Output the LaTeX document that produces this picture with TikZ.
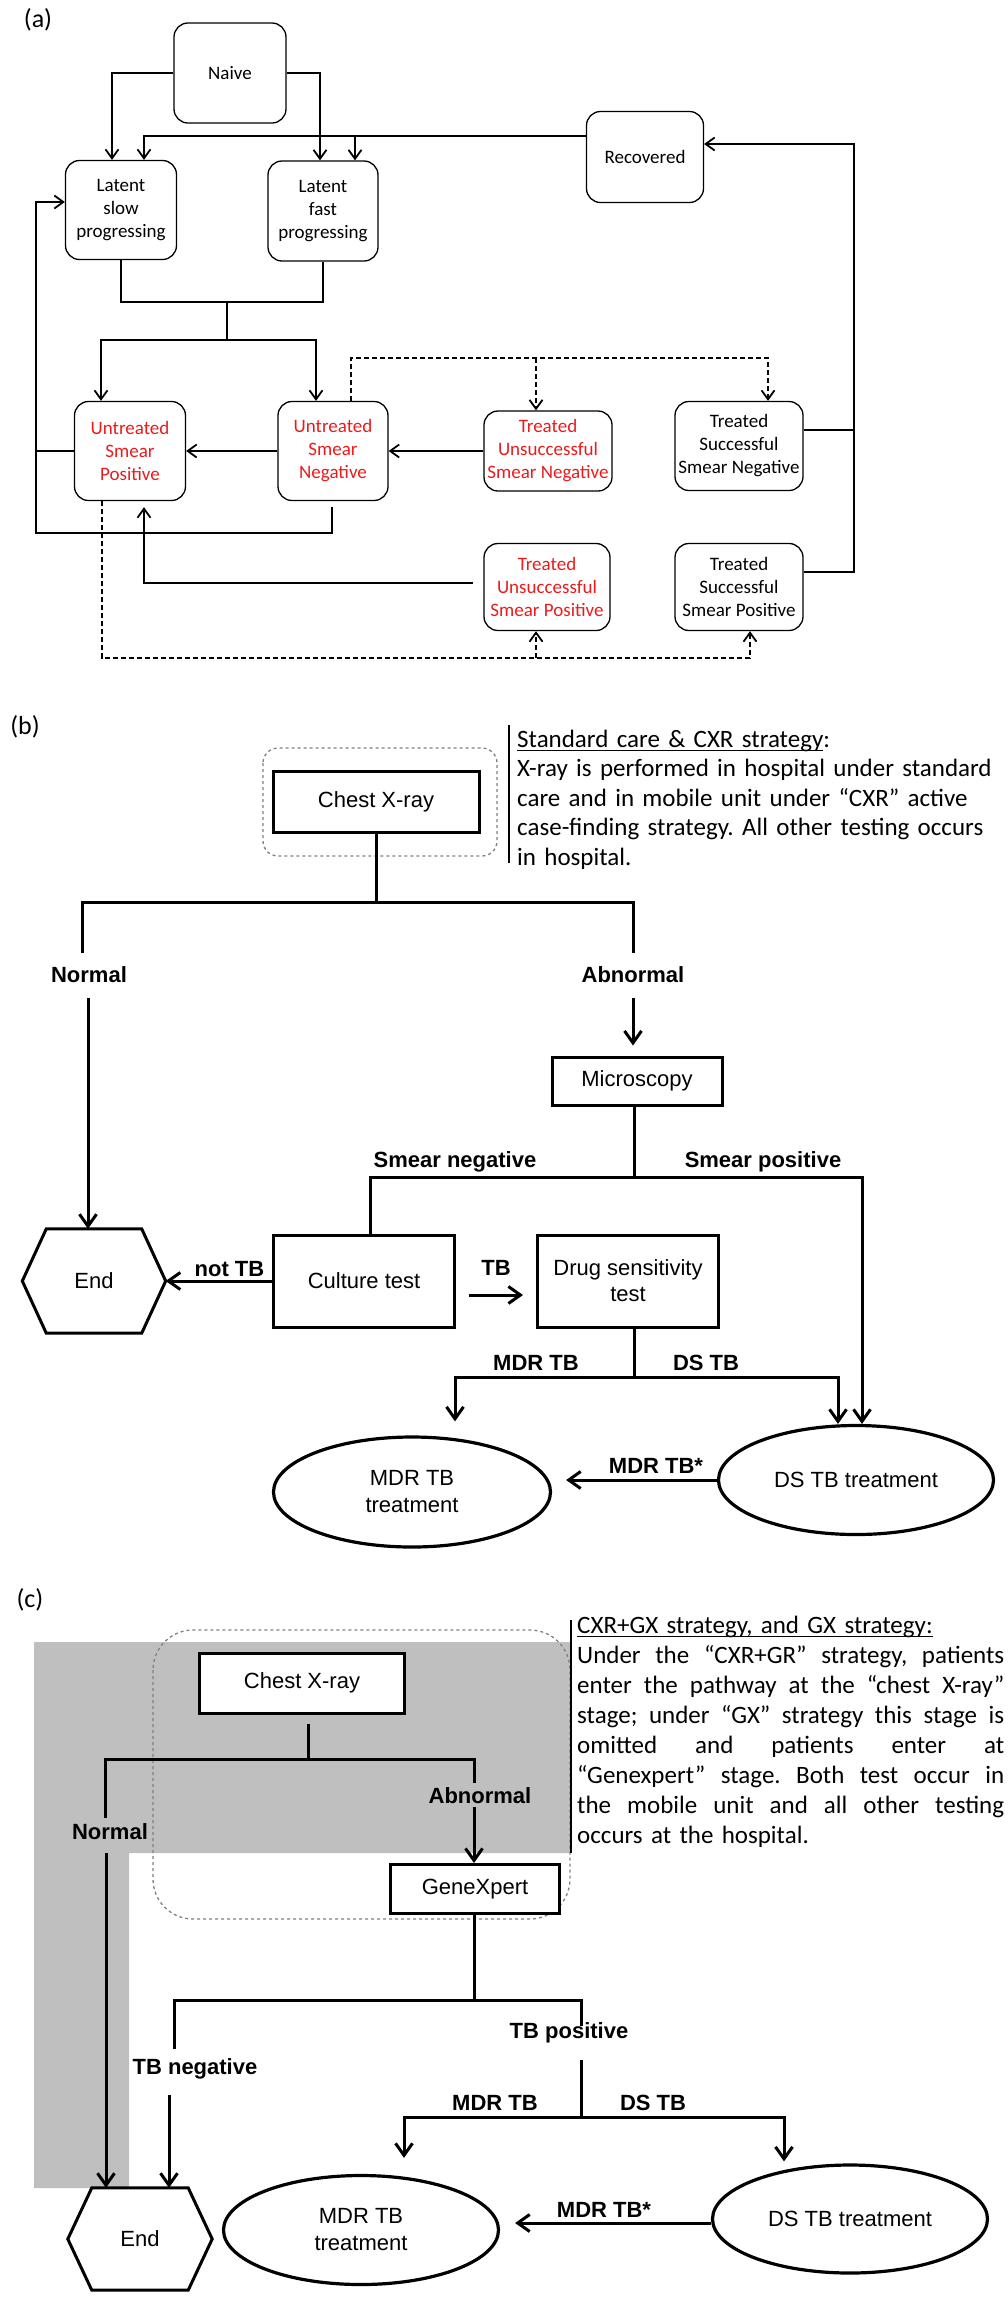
\documentclass[tikz,border=0pt]{standalone}
\usepackage{fontspec}
\setmainfont{Carlito}
\newfontfamily\arialfont{Liberation Sans}
\usetikzlibrary{arrows.meta,shapes.geometric}
\definecolor{txred}{RGB}{232,28,28}
\frenchspacing
\tikzset{
    SA/.style ={draw, rounded corners=14pt, line width=1.3pt, align=center, inner sep=1pt, font=\fontsize{19}{23}\selectfont},
    SR/.style ={SA, text=txred},
    CN/.style ={line width=1.8pt},
    CA/.style ={CN, -{Straight Barb[length=9pt,width=13pt]}},
    CD/.style ={CA, dash pattern=on 5pt off 3pt},
    RB/.style ={draw, line width=3pt, fill=white, align=center, font=\arialfont\fontsize{22}{26}\selectfont},
    EB/.style ={ellipse, draw, line width=3.2pt, align=center, font=\arialfont\fontsize{22}{27}\selectfont},
    HX/.style ={minimum width=143pt, minimum height=104pt, inner sep=0pt, font=\arialfont\fontsize{22}{26}\selectfont},
    LB/.style ={font=\arialfont\bfseries\fontsize{22}{26}\selectfont, inner sep=1pt},
    TL/.style ={line width=3pt},
    TA/.style ={TL, -{Straight Barb[length=12pt,width=17pt]}},
    FR/.style ={draw=gray, dashed, line width=1.3pt},
    TX/.style ={font=\fontsize{25}{29.5}\selectfont, inner sep=0pt, anchor=base west, align=left}}
\newcommand\hexend[1]{\draw[TL] (#1.west) -- ([xshift=24pt]#1.north west) -- ([xshift=-24pt]#1.north east)
    -- (#1.east) -- ([xshift=-24pt]#1.south east) -- ([xshift=24pt]#1.south west) -- cycle;}
\newcommand\hdrline[1]{\setbox0\hbox{#1}\rlap{\rule[-4pt]{\wd0}{1.5pt}}\box0}
\newcommand\jline[1]{\leavevmode\hbox to 427pt{\spaceskip=0.23em plus 1fil\relax #1}}

\begin{document}
\begin{tikzpicture}[x=1pt,y=-1pt]
        \useasboundingbox (0,0) rectangle (1008,2300);
        \foreach \p/\x/\y in {a/38/20,b/25/727,c/30/1600}
            \node[font=\fontsize{26}{30}\selectfont] (lab\p) at (\x,\y) {(\p)};
        % (a) states
        \node[SA, minimum width=112pt, minimum height=100pt] (naive) at (230,73) {Naive};
        \node[SA, minimum width=111pt, minimum height=99pt] (latslow) at (121,210) {Latent\\slow\\progressing};
        \node[SA, minimum width=110pt, minimum height=100pt] (latfast) at (323,211) {Latent\\fast\\progressing};
        \node[SA, minimum width=117pt, minimum height=91pt] (recov) at (645,157) {Recovered};
        \node[SR, minimum width=111pt, minimum height=99pt] (usp) at (130,451) {Untreated\\Smear\\Positive};
        \node[SR, minimum width=110pt, minimum height=99pt] (usn) at (333,451) {Untreated\\Smear\\Negative};
        \node[SR, minimum width=128pt, minimum height=80pt] (tusn) at (548,451) {Treated\\Unsuccessful\\Smear Negative};
        \node[SA, minimum width=128pt, minimum height=89pt] (tssn) at (739,446) {Treated\\Successful\\Smear Negative};
        \node[SR, minimum width=126pt, minimum height=87pt] (tusp) at (547,587) {Treated\\Unsuccessful\\Smear Positive};
        \node[SA, minimum width=128pt, minimum height=87pt] (tssp) at (739,587) {Treated\\Successful\\Smear Positive};
        \coordinate (rf) at (355,136);
        \coordinate (lj) at (227,302);
        \coordinate (lk) at (227,340);
        \coordinate (lb) at (36,533);
        \coordinate (rb) at (854,572);
        \coordinate (dt) at (351,358);
        \coordinate (db) at (102,658);
        \coordinate (tsnE) at ([yshift=16pt]tssn.east);
        \coordinate (tunN) at ([xshift=-12pt]tusn.north);
        \coordinate (tupS) at ([xshift=-11pt]tusp.south);
        \draw[CA] (naive.west) -| ([xshift=-9pt]latslow.north);
        \draw[CA] (naive.east) -| ([xshift=-3pt]latfast.north);
        \draw[CA] ([yshift=21pt]recov.west) -| ([xshift=23pt]latslow.north);
        \draw[CA] (rf) -- ([xshift=32pt]latfast.north);
        \draw[CN] (latslow.south) |- (lj) -| (latfast.south);
        \draw[CN] (lj) -- (lk);
        \draw[CA] (lk) -| ([xshift=-29pt]usp.north);
        \draw[CA] (lk) -| ([xshift=-17pt]usn.north);
        \draw[CA] (tusn) -- (usn);
        \draw[CA] (usn) -- (usp);
        \draw[CA, shorten <=6pt] ([xshift=-1pt]usn.south) |- (lb) |- ([yshift=8pt]latslow.west);
        \draw[CN] (usp.west) -- (usp.west -| lb);
        \draw[CA, shorten <=10pt, shorten >=6pt] ([yshift=4pt]tusp.west) -| ([xshift=14pt]usp.south);
        \draw[CN] (tsnE) -- (tsnE -| rb);
        \draw[CA] ([yshift=15pt]tssp.east) -- (rb) |- ([yshift=13pt]recov.east);
        \draw[CD] ([xshift=18pt]usn.north) -- (dt) -| ([xshift=29pt]tssn.north);
        \draw[CD] (tunN |- dt) -- (tunN);
        \draw[CD] ([xshift=-28pt]usp.south) -- (db) -| ([xshift=11pt]tssp.south);
        \draw[CD] (tupS |- db) -- (tupS);
        % (b) standard care
        \draw[FR, rounded corners=15pt] (263,748) rectangle (497,856);
        \node[RB, minimum width=206pt, minimum height=61pt] (chestB) at (376,802) {Chest X-ray};
        \draw[line width=1.5pt] (509,725) -- (509,863);
        \node[TX, text width=490pt] (descB) at (517,747) {\hdrline{Standard care \& CXR strategy}:\\
            X-ray is performed in hospital under standard\\
            care and in mobile unit under “CXR” active\\
            case-finding strategy. All other testing occurs\\
            in hospital.};
        \coordinate (bj) at (376,902);
        \coordinate (bn) at (82,953);
        \coordinate (ba) at (633,953);
        \coordinate (bnd) at (88,998);
        \coordinate (bad) at (633,998);
        \coordinate (bm) at (634,1177);
        \coordinate (bd) at (634,1377);
        \draw[TL] (chestB) -- (bj);
        \draw[TL] (bn) |- (bj) -| (ba);
        \node[LB] (normB) at (89,975) {Normal};
        \node[LB] (abnB) at (633,975) {Abnormal};
        \node[RB, minimum width=170pt, minimum height=48pt] (microB) at (637,1081) {Microscopy};
        \node[HX] (endB) at (94,1281) {End};
        \hexend{endB}
        \node[RB, minimum width=181pt, minimum height=92pt] (cultB) at (364,1281) {Culture test};
        \node[RB, minimum width=181pt, minimum height=92pt] (dstB) at (628,1281) {Drug sensitivity\\test};
        \node[EB, minimum width=277pt, minimum height=110pt] (mdrB) at (412,1492) {MDR TB\\treatment};
        \node[EB, minimum width=275pt, minimum height=109pt] (dsB) at (856,1480) {DS TB treatment};
        \draw[TA] (bnd) -- (bnd |- endB.north);
        \draw[TA, shorten >=10pt] (bad) -- (bad |- microB.north);
        \draw[TL] ([xshift=-3pt]microB.south) -- (bm);
        \draw[TA] ([xshift=6pt]cultB.north) |- (bm) -| ([xshift=6pt]dsB.north);
        \node[LB] (smnB) at (455,1162) {Smear negative};
        \node[LB] (smpB) at (763,1162) {Smear positive};
        \draw[TA] (cultB) -- (endB) node[LB, pos=0.4, above=2pt] (ntbB) {not TB};
        \draw[TA, shorten <=13pt, shorten >=13pt] ([yshift=-14pt]cultB.east) -- ([yshift=-14pt]dstB.west)
            node[LB, midway, above=17pt] (tbB) {TB};
        \draw[TL] ([xshift=6pt]dstB.south) -- (bd);
        \draw[TA, shorten >=14pt] (bd) -| ([xshift=43pt]mdrB.north);
        \draw[TA] (bd) -| ([xshift=-18pt]dsB.north);
        \node[LB] (mdrlB) at (536,1363) {MDR TB};
        \node[LB] (dslB) at (706,1363) {DS TB};
        \draw[TA, shorten >=14pt] (dsB.west) -- (dsB.west -| mdrB.east);
        \node[LB] (mdrsB) at (656,1466) {MDR TB*};
        % (c) CXR+GX and GX
        \fill[gray!50] (34,1642) -- (570,1642) -- (570,1853) -- (129,1853) -- (129,2188) -- (34,2188) -- cycle;
        \draw[FR, rounded corners=40pt] (153,1630) rectangle (570,1919);
        \node[RB, minimum width=205pt, minimum height=60pt] (chestC) at (302,1683) {Chest X-ray};
        \draw[line width=1.5pt] (571,1620) -- (571,1853);
        \node[TX, text width=427pt, font=\fontsize{25}{30}\selectfont] (descC) at (577,1633) {\hdrline{CXR+GX strategy, and GX strategy:}\\
            \jline{Under the “CXR+GR” strategy, patients}\\
            \jline{enter the pathway at the “chest X-ray”}\\
            \jline{stage; under “GX” strategy this stage is}\\
            \jline{omitted and patients enter at}\\
            \jline{“Genexpert” stage. Both test occur in}\\
            \jline{the mobile unit and all other testing}\\
            occurs at the hospital.};
        \coordinate (cj) at (308,1759);
        \coordinate (cn1) at (105,1818);
        \coordinate (ca1) at (474,1783);
        \coordinate (ca2) at (474,1807);
        \coordinate (cn3) at (106,1853);
        \coordinate (cg) at (474,2000);
        \coordinate (cn2) at (174,2049);
        \coordinate (cp1) at (581,2026);
        \coordinate (cn4) at (169,2095);
        \coordinate (cp2) at (581,2060);
        \coordinate (cd) at (581,2117);
        \draw[TL, shorten <=9pt] ([xshift=6pt]chestC.south) -- (cj);
        \draw[TL] (cn1) |- (cj) -| (ca1);
        \node[LB] (normC) at (110,1832) {Normal};
        \node[LB] (abnC) at (480,1796) {Abnormal};
        \node[RB, minimum width=169pt, minimum height=49pt] (gxC) at (475,1889) {GeneXpert};
        \draw[TA] (ca2) -- (ca2 |- gxC.north);
        \draw[TL] ([xshift=-1pt]gxC.south) -- (cg);
        \draw[TL] (cn2) |- (cg) -| (cp1);
        \node[LB] (tbnC) at (195,2069) {TB negative};
        \node[LB] (tbpC) at (569,2033) {TB positive};
        \node[HX, minimum width=144pt, minimum height=102pt] (endC) at (140,2239) {End};
        \hexend{endC}
        \draw[TA] (cn3) -- (cn3 |- endC.north);
        \draw[TA] (cn4) -- (cn4 |- endC.north);
        \draw[TL] (cp2) -- (cd);
        \node[EB, minimum width=275pt, minimum height=109pt] (mdrC) at (361,2230) {MDR TB\\treatment};
        \node[EB, minimum width=275pt, minimum height=108pt] (dsC) at (850,2219) {DS TB treatment};
        \draw[TA, shorten >=16pt] (cd) -| ([xshift=43pt]mdrC.north);
        \draw[TA, shorten >=2pt] (cd) -| ([xshift=-66pt]dsC.north);
        \node[LB] (mdrlC) at (495,2103) {MDR TB};
        \node[LB] (dslC) at (653,2103) {DS TB};
        \coordinate (dsw) at ([yshift=-4pt]dsC.west);
        \draw[TA, shorten >=15pt] (dsw) -- (dsw -| mdrC.east);
        \node[LB] (mdrsC) at (604,2210) {MDR TB*};
    \end{tikzpicture}
\end{document}
